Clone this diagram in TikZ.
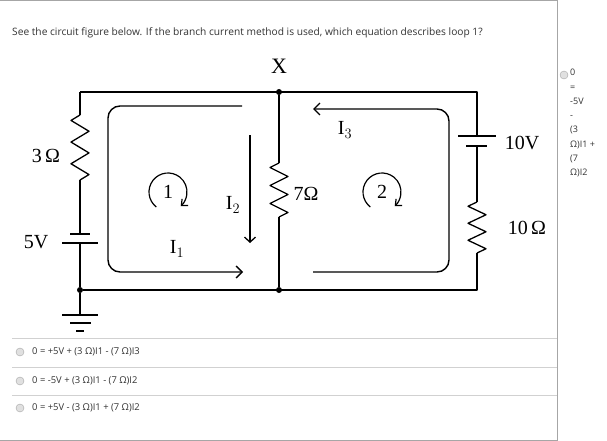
\documentclass[tikz,border=0pt]{standalone}
\usepackage{fontspec}
\setmainfont{Liberation Serif}
\newfontfamily\uifont{Open Sans}
\usetikzlibrary{arrows.meta}
\newcommand{\vres}[3]{% x, ytop, ybot
  \draw[wire] (#1,#2) -- ++(0,0)
    \foreach \k in {1,...,6} { -- ({#1+(mod(\k,2)==1?-9:9)},{#2+(\k-0.5)*(#3-#2)/6}) } -- (#1,#3);}
\begin{document}
\begin{tikzpicture}[x=1pt,y=-1pt,
  wire/.style={line width=1.3pt,line join=round},
  loopp/.style={line width=1.4pt,rounded corners=12pt},
  dot/.style={circle,fill,inner sep=0pt,minimum size=6pt},
  lbl/.style={font=\fontsize{20}{20}\selectfont,inner sep=0pt},
  ui/.style={font=\uifont\fontsize{9.4}{10}\selectfont,inner sep=0pt,text=black!80},
  radio/.style={circle,draw=black!35,fill=black!12,inner sep=0pt,minimum size=8pt},
  sep/.style={draw=black!18,line width=0.6pt}]
\useasboundingbox (0,0) rectangle (607,441);
\fill[white] (0,0) rectangle (607,441);
\draw[black!35,line width=1pt] (0,1) -- (557,1);
\draw[black!35,line width=1pt] (557,0) -- (557,441);
\draw[black!35,line width=1pt] (0,440) -- (557,440);
\node[ui,anchor=west,font=\uifont\fontsize{10.2}{11}\selectfont] (q) at (12,33) {See the circuit figure below. If the branch current method is used, which equation describes loop 1?};
% wires
\coordinate (TL) at (80,92); \coordinate (TR) at (477,92);
\coordinate (BR) at (477,290);
\node[dot] (J1) at (279,92) {};
\node[dot] (J2) at (279,290) {};
\node[dot] (J3) at (80,290) {};
\node[font=\fontsize{22}{22}\selectfont,inner sep=0pt] (X) at (279,66) {X};
\draw[wire] (TL) -- (TR) -- (477,136);
\draw[wire] (TL) -- (80,115);
\vres{80}{115}{180}
\draw[wire] (80,180) -- (80,234);
\draw[wire] (70,234) -- (90,234);
\draw[wire] (62,243) -- (98,243);
\draw[wire] (80,243) -- (J3) -- (BR) -- (477,253);
\draw[wire] (J3) -- (80,315);
\draw[wire] (62,315) -- (98,315);
\draw[wire] (70,323) -- (91,323);
\draw[wire] (76,331) -- (84,331);
\draw[wire] (J1) -- (279,163);
\vres{279}{163}{217}
\draw[wire] (279,217) -- (J2);
\draw[wire] (458,136) -- (496,136);
\draw[wire] (466,146) -- (487,146);
\draw[wire] (477,146) -- (477,202);
\vres{477}{202}{253}
% labels
\node[lbl] (r3) at (46,156) {3\,Ω};
\node[lbl] (v5) at (36,242) {5V};
\node[lbl] (r7) at (306,194) {7Ω};
\node[lbl] (v10) at (522,143) {10V};
\node[lbl] (r10) at (527,228) {10\,Ω};
\node[lbl] (i1) at (177,249) {I$_1$};
\node[lbl] (i2) at (233,205) {I$_2$};
\node[lbl] (i3) at (345,130) {I$_3$};
% loop currents
\draw[loopp,-{Straight Barb[length=6pt,width=12pt]}] (242,106) -- (108,106) -- (108,272) -- (243,272);
\draw[loopp,{Straight Barb[length=6pt,width=12pt]}-] (313,109) -- (449,109) -- (449,272) -- (313,272);
\draw[line width=1.3pt,-{Straight Barb[length=5pt,width=11pt]}] (250,135) -- (250,243);
\node[lbl] (c1) at (168,192) {1};
\draw[line width=1.2pt,-{Straight Barb[length=5pt,width=9pt]}] (c1) ++(128:19) arc[start angle=128,end angle=408,radius=19];
\node[lbl] (c2) at (382,192) {2};
\draw[line width=1.2pt,-{Straight Barb[length=5pt,width=9pt]}] (c2) ++(128:19) arc[start angle=128,end angle=408,radius=19];
% answers
\draw[sep] (12,338) -- (557,338);
\draw[sep] (12,367) -- (557,367);
\draw[sep] (12,395) -- (557,395);
\node[radio] (a1) at (20,352) {};
\node[ui,anchor=west] (t1) at (32,352) {0 = +5V + (3 Ω)I1 - (7 Ω)I3};
\node[radio] (a2) at (20,381) {};
\node[ui,anchor=west] (t2) at (32,381) {0 = -5V + (3 Ω)I1 - (7 Ω)I2};
\node[radio] (a3) at (20,408) {};
\node[ui,anchor=west] (t3) at (32,408) {0 = +5V - (3 Ω)I1 + (7 Ω)I2};
\node[radio] (a4) at (564,75) {};
\node[ui,anchor=north west,align=left,font=\uifont\fontsize{9}{14.3}\selectfont] (t4) at (570,69) {0\\=\\-5V\\-\\(3\\Ω)I1 +\\(7\\Ω)I2};
\end{tikzpicture}
\end{document}
